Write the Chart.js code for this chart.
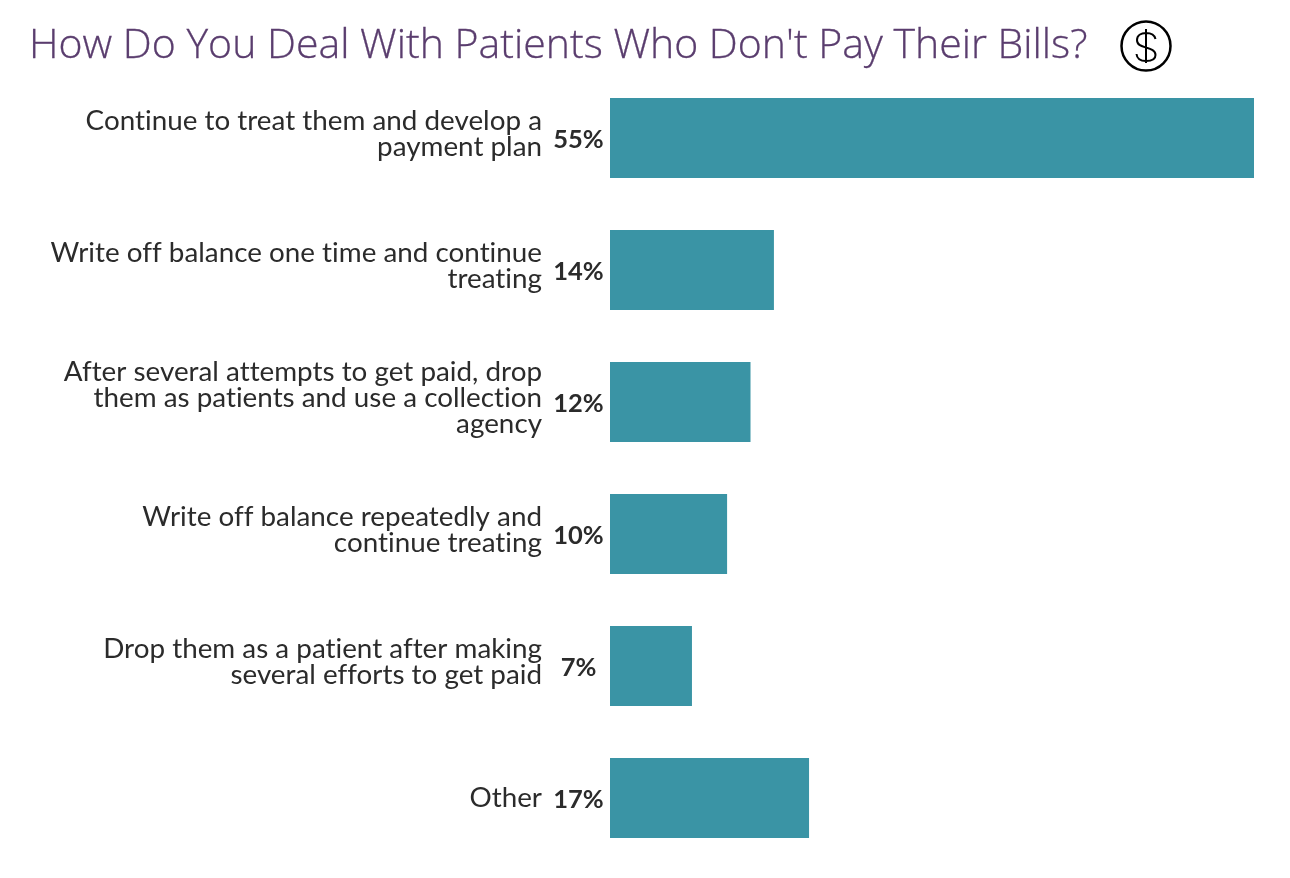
<!DOCTYPE html>
<html>
<head>
<meta charset="utf-8">
<style>
  html, body { margin: 0; padding: 0; background: #fff; }
  #wrap { position: relative; width: 1290px; height: 878px; }
  #title { position: absolute; left: 29px; top: 14px; font: 300 41px "Open Sans", sans-serif; color: #5a3d6e; white-space: nowrap; -webkit-text-stroke: 0.3px #5a3d6e; }
  #icon { position: absolute; left: 1120px; top: 20px; }
  canvas { position: absolute; left: 0; top: 0; }
</style>
<script src="https://cdn.jsdelivr.net/npm/chart.js@4"></script>
</head>
<body>
<div id="wrap">
  <canvas id="chart" width="1290" height="878"></canvas>
  <div id="title">How Do You Deal With Patients Who Don't Pay Their Bills?</div>
  <svg id="icon" width="52" height="52" viewBox="0 0 52 52">
    <circle cx="26" cy="26" r="24.5" fill="none" stroke="#000" stroke-width="2.5"/>
    <path d="M26 9V43M35.5 19C34.5 14.5 30.5 13 26 13C21 13 17 15.5 17 20C17 25 21 26 26 27.5C31 29 35.5 30.5 35.5 35C35.5 39.5 31 41 26 41C21 41 17 39 16.5 34" fill="none" stroke="#000" stroke-width="2"/>
  </svg>
</div>
<script>
const categories = [
  ['Continue to treat them and develop a', 'payment plan'],
  ['Write off balance one time and continue', 'treating'],
  ['After several attempts to get paid, drop', 'them as patients and use a collection', 'agency'],
  ['Write off balance repeatedly and', 'continue treating'],
  ['Drop them as a patient after making', 'several efforts to get paid'],
  ['Other']
];
const percentValues = [55, 14, 12, 10, 7, 17];

// turns off the Lato ti/ff ligatures and nudges the one-line label down
const labelTweaks = {
  id: 'labelTweaks',
  beforeDraw(chart) {
    chart.ctx.letterSpacing = '0.01px';
    const items = chart.scales.y.getLabelItems();
    const last = items[items.length - 1];
    if (!last.options.nudged) {
      last.options.translation[1] += 4;
      last.options.nudged = true;
    }
  }
};

// puts the NN% text just left of each bar
const valueLabels = {
  id: 'valueLabels',
  afterDatasetsDraw(chart) {
    const { ctx } = chart;
    ctx.save();
    ctx.font = '700 25.5px Lato, sans-serif';
    ctx.fillStyle = '#2b2b2b';
    ctx.textAlign = 'center';
    ctx.textBaseline = 'middle';
    chart.getDatasetMeta(0).data.forEach((bar, i) => {
      ctx.fillText(percentValues[i] + '%', bar.base - 31.5, bar.y + 2);
    });
    ctx.restore();
  }
};

new Chart(document.getElementById('chart'), {
  type: 'bar',
  data: {
    labels: categories,
    datasets: [{
      data: percentValues,
      backgroundColor: '#3a94a5',
      categoryPercentage: 1,
      barPercentage: 0.606
    }]
  },
  options: {
    indexAxis: 'y',
    responsive: false,
    animation: false,
    layout: { padding: { left: 0, right: 36, top: 72, bottom: 14 } },
    plugins: { legend: { display: false }, tooltip: { enabled: false } },
    scales: {
      x: { display: false, min: 0, max: 55 },
      y: {
        // tick padding also counts vertically, so clear it to keep the full plot height
        afterFit(axis) {
          axis.width = 610;
          axis.paddingTop = 0;
          axis.paddingBottom = 0;
        },
        grid: { display: false },
        border: { display: false },
        ticks: {
          color: '#2b2b2b',
          font: { family: 'Lato', size: 27.8, lineHeight: 0.935 },
          padding: 60,
          labelOffset: -4,
          autoSkip: false
        }
      }
    }
  },
  plugins: [labelTweaks, valueLabels]
});
</script>
</body>
</html>
